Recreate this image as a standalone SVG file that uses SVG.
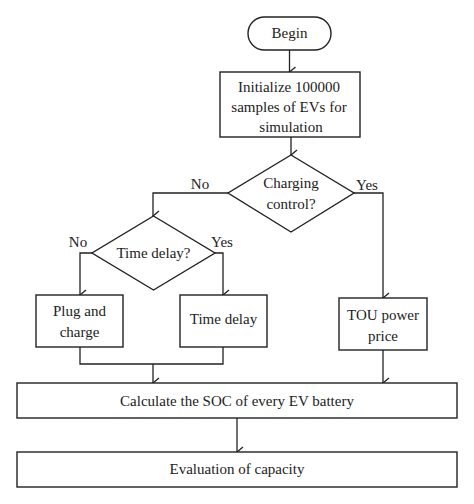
<svg xmlns="http://www.w3.org/2000/svg" width="474" height="504" viewBox="0 0 474 504">
<defs>
<style>
.s{fill:#fff;stroke:#222;stroke-width:1.4}
.c{fill:none;stroke:#222;stroke-width:1.3}
text{font-family:"Liberation Serif","Times New Roman",serif;font-size:15px;fill:#222;text-anchor:middle;dominant-baseline:central}
</style>
<marker id="a" markerWidth="12" markerHeight="12" refX="6" refY="10" orient="auto" markerUnits="userSpaceOnUse" viewBox="0 0 12 12">
<polyline points="1,4 6,10 11,4" fill="none" stroke="#222" stroke-width="1.3"/>
</marker>
</defs>
<rect width="474" height="504" fill="#fff"/>
<g id="connectors">
<line class="c" x1="289.5" y1="50" x2="289.5" y2="72" marker-end="url(#a)"/>
<line class="c" x1="291" y1="137" x2="291" y2="155" marker-end="url(#a)"/>
<polyline class="c" points="228,193 153,193 153,216" marker-end="url(#a)"/>
<polyline class="c" points="354,193 383,193 383,298" marker-end="url(#a)"/>
<polyline class="c" points="92,253 80,253 80,295" marker-end="url(#a)"/>
<polyline class="c" points="215,253 223,253 223,295" marker-end="url(#a)"/>
<polyline class="c" points="80,347 80,364 223,364 223,347"/>
<line class="c" x1="153" y1="364" x2="153" y2="383" marker-end="url(#a)"/>
<line class="c" x1="383" y1="350" x2="383" y2="383" marker-end="url(#a)"/>
<line class="c" x1="237" y1="418" x2="237" y2="452" marker-end="url(#a)"/>
<text x="200" y="184">No</text>
<text x="367" y="185">Yes</text>
<text x="78" y="242">No</text>
<text x="222" y="242">Yes</text>
</g>
<g id="begin">
<rect class="s" x="248" y="17" width="83" height="33" rx="16.5"/>
<text x="289.5" y="33">Begin</text>
</g>
<g id="init">
<rect class="s" x="220" y="72" width="140" height="65"/>
<text x="289" y="87">Initialize 100000</text>
<text x="289" y="107">samples of EVs for</text>
<text x="291" y="127">simulation</text>
</g>
<g id="charging">
<polygon class="s" points="291,155 354,193 291,232 228,193"/>
<text x="291" y="183">Charging</text>
<text x="291" y="204">control?</text>
</g>
<g id="timedelayq">
<polygon class="s" points="153.5,216 215,253 153.5,290 92,253"/>
<text x="153.5" y="253">Time delay?</text>
</g>
<g id="plug">
<rect class="s" x="36" y="295" width="87" height="52"/>
<text x="79.5" y="311">Plug and</text>
<text x="79.5" y="332">charge</text>
</g>
<g id="timedelay">
<rect class="s" x="180" y="295" width="87" height="52"/>
<text x="223.5" y="319">Time delay</text>
</g>
<g id="tou">
<rect class="s" x="339" y="298" width="88" height="52"/>
<text x="383" y="315">TOU power</text>
<text x="383" y="336">price</text>
</g>
<g id="calc">
<rect class="s" x="17" y="383" width="440" height="35"/>
<text x="237" y="401">Calculate the SOC of every EV battery</text>
</g>
<g id="eval">
<rect class="s" x="17" y="452" width="440" height="35"/>
<text x="237" y="469">Evaluation of capacity</text>
</g>
</svg>
